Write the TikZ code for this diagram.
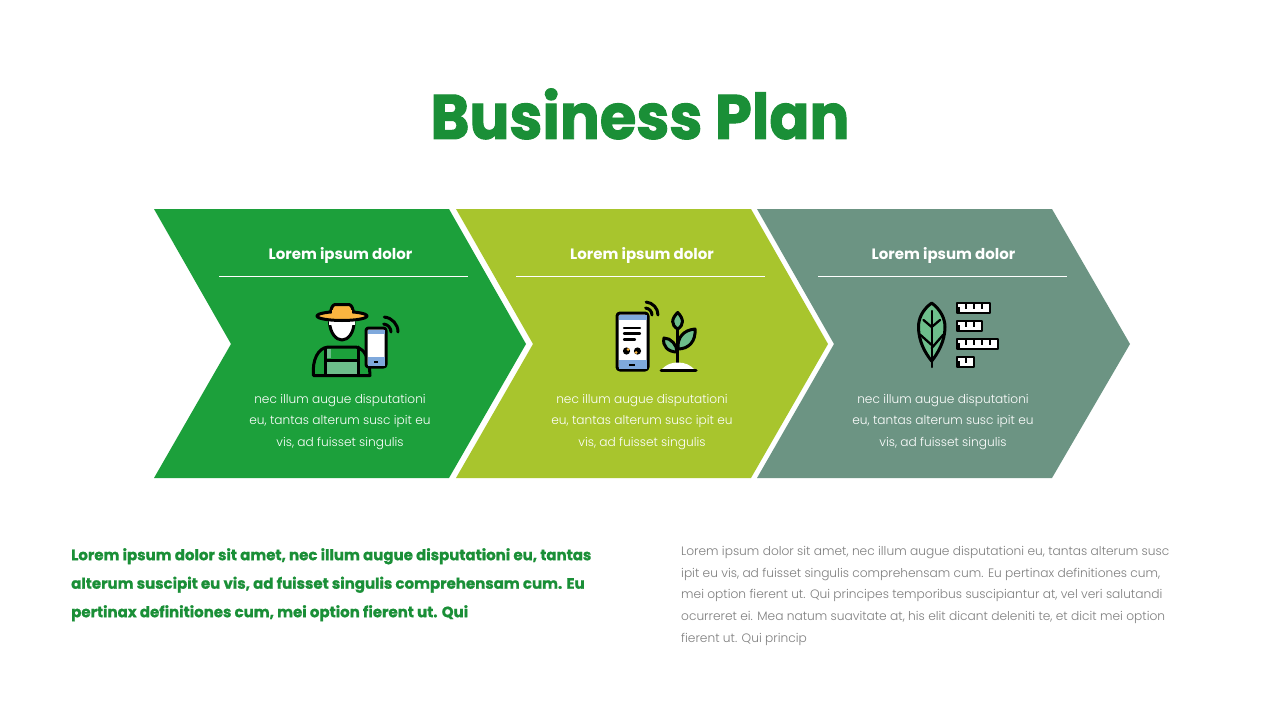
\documentclass[tikz,border=0pt]{standalone}
\usepackage{fontspec}
\setmainfont{Poppins}
\newfontfamily\titlefont[FakeBold=1.5,FakeStretch=0.94]{Poppins Bold}
\newfontfamily\leadfont[FakeBold=1.0,FakeStretch=1.0]{Poppins Bold}
\newfontfamily\headfont{Poppins Bold}
\newfontfamily\bodyfont{Poppins Light}
\definecolor{cA}{HTML}{1CA03B}
\definecolor{cB}{HTML}{A8C52D}
\definecolor{cC}{HTML}{6C9483}
\definecolor{titlegreen}{HTML}{1A8F37}
\definecolor{greytext}{HTML}{7F7F7F}
\definecolor{hat}{HTML}{FBB640}
\definecolor{softblue}{HTML}{7FA9DC}
\definecolor{softgreen}{HTML}{6DBE8B}
\tikzset{
  chevron/.style={draw=none},
  rule/.style={draw=white,line width=0.8pt},
  titletext/.style={text=titlegreen,font=\titlefont\fontsize{63}{70}\selectfont,inner sep=0pt},
  headtext/.style={text=white,font=\headfont\fontsize{15}{18}\selectfont,inner sep=0pt},
  cardtext/.style={text=white,font=\bodyfont\fontsize{12.15}{21.5}\selectfont,align=center,inner sep=0pt},
  leadtext/.style={text=titlegreen,font=\leadfont\fontsize{15}{28.5}\selectfont,align=left,anchor=north west,inner sep=0pt},
  greytxt/.style={text=greytext,font=\bodyfont\fontsize{12.2}{21.7}\selectfont,align=left,anchor=north west,inner sep=0pt},
  ink/.style={draw=black,line width=3pt,line join=round,line cap=round},
  thin/.style={draw=black,line width=2.3pt,line cap=round,line join=round},
}
\newcommand{\cardcopy}{nec illum augue disputationi\\eu, tantas alterum susc ipit eu\\vis, ad fuisset singulis}
\begin{document}
\begin{tikzpicture}[x=1pt,y=-1pt]
\useasboundingbox (0,0) rectangle (1280,720);
\fill[white] (0,0) rectangle (1280,720);
\node[titletext] (title) at (640,114) {Business Plan};
% chevrons
\fill[cA,chevron] (154,209) -- (449,209) -- (526,344) -- (449,478) -- (154,478) -- (231,344) -- cycle;
\fill[cB,chevron] (456,209) -- (751,209) -- (828,344) -- (751,478) -- (456,478) -- (533,344) -- cycle;
\fill[cC,chevron] (757,209) -- (1052,209) -- (1130,344) -- (1052,478) -- (757,478) -- (834,344) -- cycle;
% headings
\node[headtext] (h1) at (340.5,255) {Lorem ipsum dolor};
\node[headtext] (h2) at (642,255) {Lorem ipsum dolor};
\node[headtext] (h3) at (943.5,255) {Lorem ipsum dolor};
\draw[rule] (219,276.5) -- (468,276.5);
\draw[rule] (516,276.5) -- (765,276.5);
\draw[rule] (818,276.5) -- (1067,276.5);
% card text
\node[cardtext] (t1) at (340,422) {\cardcopy};
\node[cardtext] (t2) at (642,422) {\cardcopy};
\node[cardtext] (t3) at (943,422) {\cardcopy};
% lower text
\node[leadtext] (lead) at (71,548) {Lorem ipsum dolor sit amet, nec illum augue disputationi eu, tantas\\alterum suscipit eu vis, ad fuisset singulis comprehensam cum. Eu\\pertinax definitiones cum, mei option fierent ut. Qui};
\node[greytxt] (para) at (681,546) {Lorem ipsum dolor sit amet, nec illum augue disputationi eu, tantas alterum susc\\ipit eu vis, ad fuisset singulis comprehensam cum. Eu pertinax definitiones cum,\\mei option fierent ut. Qui principes temporibus suscipiantur at, vel veri salutandi\\ocurreret ei. Mea natum suavitate at, his elit dicant deleniti te, et dicit mei option\\fierent ut. Qui princip};
% farmer icon
\filldraw[ink,fill=cA] (313.5,375.5) .. controls (312,360) and (318,348) .. (328,347) -- (356,347) .. controls (364,349) and (369,356) .. (370,375.5) -- cycle;
\filldraw[ink,fill=softgreen] (325,360) -- (358,360) -- (358,375.5) -- (325,375.5) -- cycle;
\draw[ink] (325,348) -- (325,375) (358,347) -- (358,360);
\fill[softgreen] (327,349) rectangle (331,358);
\filldraw[ink,fill=white] (329.5,322) .. controls (330,333) and (336,340) .. (342,340) .. controls (348,340) and (354,333) .. (354,322);
\fill[white] (329,321) rectangle (355,325);
\filldraw[ink,fill=hat] (330,315) .. controls (331,309) and (332,305) .. (335,304.5) -- (349,304.5) .. controls (352,305) and (353,309) .. (354,315) -- cycle;
\filldraw[ink,fill=hat] (342,316) ellipse [x radius=25pt,y radius=4.5pt];
\fill[hat] (332,310) rectangle (352,316);
\filldraw[ink,fill=white,rounded corners=2.5pt] (366,328) rectangle (386,367);
\fill[softblue] (367.5,329.5) rectangle (384.5,333.5);
\fill[softblue] (367.5,357) rectangle (384.5,365.5);
\fill[black] (374,361) rectangle (378,363);
\draw[ink] ([shift={(85:8pt)}]383,332) arc[start angle=85,end angle=0,radius=8pt];
\draw[ink] ([shift={(85:15pt)}]383,332) arc[start angle=85,end angle=0,radius=15pt];
% phone and plant icon
\filldraw[ink,fill=white,rounded corners=3pt] (617,313) rectangle (648,370);
\fill[softblue] (618.5,314.5) rectangle (646.5,319.5);
\fill[softblue] (618.5,360) rectangle (646.5,368.5);
\draw[thin] (624,328) -- (640,328) (624,333.5) -- (640,333.5) (624,339.5) -- (635,339.5);
\fill[black] (626.5,351) circle[radius=3.6pt] (637.5,351) circle[radius=3.6pt];
\fill[hat] (628,349.5) circle[radius=1.5pt] (636,352.5) circle[radius=1.5pt];
\fill[black] (629,363.5) rectangle (635,366);
\draw[ink] ([shift={(85:7pt)}]645,315) arc[start angle=85,end angle=0,radius=7pt];
\draw[ink] ([shift={(85:13pt)}]645,315) arc[start angle=85,end angle=0,radius=13pt];
\filldraw[ink,fill=softgreen] (677.7,312.5) .. controls (671,319) and (671,325) .. (677.7,329) .. controls (684,325) and (684,319) .. (677.7,312.5) -- cycle;
\draw[ink] (677.7,329) -- (677.7,365);
\filldraw[ink,fill=softgreen] (678,349) .. controls (677,337) and (684,330) .. (695,329) .. controls (696,341) and (689,349) .. (678,349) -- cycle;
\filldraw[ink,fill=softgreen] (677,352) .. controls (677,345) and (671,338) .. (664,338) .. controls (662,346) and (668,352) .. (677,352) -- cycle;
\fill[white] (662,369) .. controls (667,364) and (672,362.5) .. (678,362.5) .. controls (685,362.5) and (690,365) .. (694,369) -- cycle;
\draw[ink] (661,370) -- (696,370);
% leaf icon
\filldraw[ink,fill=softgreen] (931.7,303) .. controls (922,310) and (918.5,319) .. (918.5,327) .. controls (918.5,341) and (925,353) .. (931.7,361) .. controls (938,353) and (945,341) .. (945,327) .. controls (945,319) and (941,310) .. (931.7,303) -- cycle;
\draw[thin] (931.7,311) -- (931.7,367);
\draw[thin] (931.7,327) -- (923.5,320) (931.7,345) -- (920.5,335) (931.7,327) -- (940,320) (931.7,348) -- (943,335);
% rulers
\foreach \yy/\xx/\tk in {303/990/{966,974,982},321/982/{966,974},339/998.3/{966,974,982,990},357/974.3/{966}}{
  \filldraw[thin,fill=white] (957,\yy) rectangle (\xx,\yy+10.3);
  \foreach \t in \tk { \draw[black,line width=1.8pt] (\t,\yy) -- (\t,\yy+5.5); }
  \fill[black] (956,\yy+3.5) rectangle (960,\yy+10);
}
\end{tikzpicture}
\end{document}
